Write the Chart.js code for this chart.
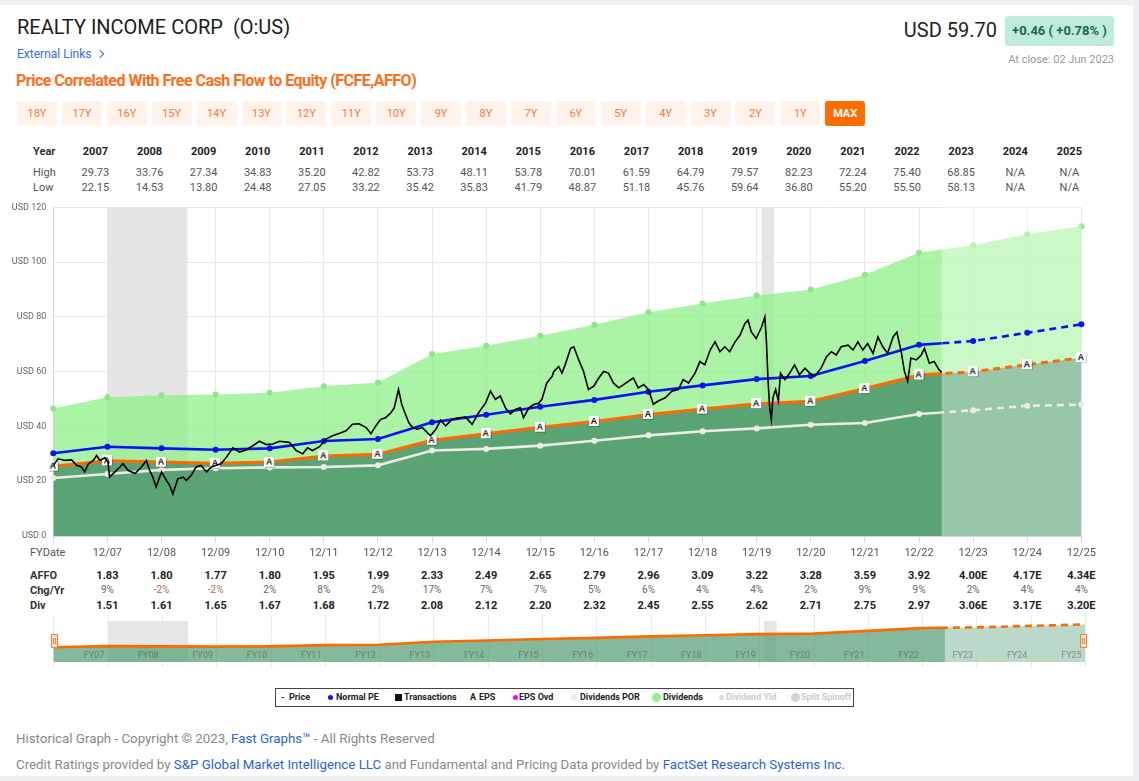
<!DOCTYPE html>
<html><head><meta charset="utf-8">
<script src="https://cdn.jsdelivr.net/npm/chart.js@4.4.0/dist/chart.umd.min.js"></script>
<style>
html,body{margin:0;padding:0;}
body{width:1139px;height:781px;background:#eef0f4;font-family:Roboto,'Noto Sans',Arial,sans-serif;position:relative;overflow:hidden;}
#card{position:absolute;left:0;top:5px;width:1133px;height:771px;background:#fff;}
.t{position:absolute;white-space:nowrap;line-height:1;}
.btn{position:absolute;top:101px;height:25px;width:40px;background:#fff3ec;border-radius:3px;color:#ff7a33;font-size:11px;line-height:25px;text-align:center;}
.btn.on{background:#ff6d00;color:#fff;font-weight:bold;}
#main{position:absolute;left:0;top:195px;}
#nav{position:absolute;left:0;top:615px;}
#legend{position:absolute;left:275px;top:688px;width:577px;height:17px;border:1.5px solid #444;}
.lg{position:absolute;top:4px;font-size:9px;font-weight:bold;color:#222;line-height:1;white-space:nowrap;}
.dot{position:absolute;border-radius:50%;}
.chev{display:inline-block;width:5px;height:5px;border-right:1.6px solid #2f6fe0;border-top:1.6px solid #2f6fe0;transform:rotate(45deg);margin-left:6px;position:relative;top:-1px;}
a{color:#2a62d8;text-decoration:none;}
</style></head>
<body>
<div id="card"></div>
<div class="t" style="left:17px;top:17px;font-size:20px;color:#1d1d1d;">REALTY INCOME CORP<span style="margin-left:10px">(O:US)</span></div>
<div class="t" style="left:17px;top:48px;font-size:12px;color:#2f6fe0;">External Links<span class="chev"></span></div>
<div class="t" style="left:16px;top:73px;font-size:16px;font-weight:bold;color:#ff6d1a;letter-spacing:-0.5px;">Price Correlated With Free Cash Flow to Equity (FCFE,AFFO)</div>
<div id="btns"></div>
<div class="t" style="right:142px;top:20px;font-size:20px;color:#222;">USD 59.70</div>
<div class="t" style="left:1005px;top:16px;width:109px;height:30px;line-height:30px;background:#bfeadc;border-radius:3px;text-align:center;font-size:13px;font-weight:bold;color:#1b6b47;">+0.46 ( +0.78% )</div>
<div class="t" style="right:25px;top:54px;font-size:11px;color:#999;">At close: 02 Jun 2023</div>
<div id="tables"></div>
<canvas id="main" width="1100" height="365"></canvas>
<canvas id="nav" width="1100" height="52"></canvas>
<div id="legend">
  <div class="lg" style="left:5px;">-</div><div class="lg" style="left:13px;">Price</div>
  <div class="dot" style="left:52px;top:6px;width:5px;height:5px;background:#0a14f0;"></div><div class="lg" style="left:60px;">Normal PE</div>
  <div class="dot" style="left:119px;top:5px;width:7px;height:7px;border-radius:0;background:#111;"></div><div class="lg" style="left:128px;">Transactions</div>
  <div class="lg" style="left:194px;">A</div><div class="lg" style="left:203px;">EPS</div>
  <div class="dot" style="left:237px;top:6px;width:5px;height:5px;background:#ff00ff;"></div><div class="lg" style="left:243px;">EPS Ovd</div>
  <div class="dot" style="left:295px;top:5px;width:6px;height:6px;background:#e6ede6;"></div><div class="lg" style="left:304px;">Dividends POR</div>
  <div class="dot" style="left:376px;top:4px;width:9px;height:9px;background:#94ef8c;"></div><div class="lg" style="left:387px;">Dividends</div>
  <div class="dot" style="left:443px;top:6px;width:5px;height:5px;background:#ddd;"></div><div class="lg" style="left:450px;color:#ccc;">Dividend Yld</div>
  <div class="dot" style="left:515px;top:4px;width:9px;height:9px;background:#d4d4d4;"></div><div class="lg" style="left:525px;color:#ccc;">Split Spinoff</div>
</div>
<div class="t" style="left:16px;top:732px;font-size:13.3px;color:#888;">Historical Graph - Copyright © 2023, <a>Fast Graphs™</a> - All Rights Reserved</div>
<div class="t" style="left:16px;top:758px;font-size:13.3px;color:#888;">Credit Ratings provided by <a>S&amp;P Global Market Intelligence LLC</a> and Fundamental and Pricing Data provided by <a>FactSet Research Systems Inc.</a></div>
<script>
// ---------- DATA ----------
const rangeButtons = ['18Y','17Y','16Y','15Y','14Y','13Y','12Y','11Y','10Y','9Y','8Y','7Y','6Y','5Y','4Y','3Y','2Y','1Y','MAX'];
const fiscalYears = [2006,2007,2008,2009,2010,2011,2012,2013,2014,2015,2016,2017,2018,2019,2020,2021,2022,2023,2024,2025];
const tableYears = ['2007','2008','2009','2010','2011','2012','2013','2014','2015','2016','2017','2018','2019','2020','2021','2022','2023','2024','2025'];
const highs = ['29.73','33.76','27.34','34.83','35.20','42.82','53.73','48.11','53.78','70.01','61.59','64.79','79.57','82.23','72.24','75.40','68.85','N/A','N/A'];
const lows  = ['22.15','14.53','13.80','24.48','27.05','33.22','35.42','35.83','41.79','48.87','51.18','45.76','59.64','36.80','55.20','55.50','58.13','N/A','N/A'];
const affoText = ['1.83','1.80','1.77','1.80','1.95','1.99','2.33','2.49','2.65','2.79','2.96','3.09','3.22','3.28','3.59','3.92','4.00E','4.17E','4.34E'];
const chgYr = ['9%','-2%','-2%','2%','8%','2%','17%','7%','7%','5%','6%','4%','4%','2%','9%','9%','2%','4%','4%'];
const divText = ['1.51','1.61','1.65','1.67','1.68','1.72','2.08','2.12','2.20','2.32','2.45','2.55','2.62','2.71','2.75','2.97','3.06E','3.17E','3.20E'];
// plotted series (USD), one value per fiscal year end
const dividendsArea = [46.6,50.7,51.4,51.7,52.3,54.7,56.1,66.5,69.5,73.1,77.1,81.7,84.9,87.8,90.0,95.4,103.4,106.2,110.2,113.1];
const normalPE = [30.2,32.6,32.0,31.5,32.0,34.7,35.4,41.5,44.3,47.2,49.7,52.7,55.0,57.3,58.4,63.9,69.8,71.2,74.2,77.3];
const epsLine = [25.5,27.45,27.0,26.55,27.0,29.25,29.85,34.95,37.35,39.75,41.85,44.4,46.35,48.3,49.2,53.85,58.8,60.0,62.55,65.1];
const dividendsPOR = [21.2,22.65,24.15,24.75,25.05,25.2,25.8,31.2,31.8,33.0,34.8,36.75,38.25,39.3,40.65,41.25,44.55,45.9,47.55,48.0];
// price (decimal year, USD)
const priceDates = [2007.00,2007.09,2007.22,2007.34,2007.43,2007.52,2007.58,2007.65,2007.74,2007.80,2007.86,2007.95,2008.01,2008.04,2008.14,2008.23,2008.29,2008.38,2008.51,2008.63,2008.72,2008.78,2008.84,2008.90,2009.00,2009.09,2009.15,2009.21,2009.30,2009.40,2009.46,2009.55,2009.64,2009.73,2009.83,2009.92,2010.01,2010.10,2010.20,2010.32,2010.44,2010.56,2010.69,2010.81,2010.93,2011.06,2011.18,2011.36,2011.49,2011.61,2011.70,2011.79,2011.92,2012.04,2012.16,2012.28,2012.41,2012.53,2012.65,2012.78,2012.87,2012.96,2013.05,2013.14,2013.24,2013.30,2013.38,2013.44,2013.51,2013.57,2013.64,2013.73,2013.82,2013.91,2013.97,2014.07,2014.16,2014.25,2014.37,2014.50,2014.62,2014.74,2014.86,2014.99,2015.08,2015.17,2015.26,2015.36,2015.45,2015.54,2015.63,2015.69,2015.79,2015.88,2015.97,2016.03,2016.12,2016.22,2016.25,2016.34,2016.40,2016.46,2016.56,2016.62,2016.71,2016.80,2016.89,2016.99,2017.08,2017.17,2017.26,2017.35,2017.45,2017.54,2017.63,2017.72,2017.81,2017.91,2018.00,2018.09,2018.18,2018.31,2018.43,2018.55,2018.64,2018.74,2018.86,2018.95,2019.04,2019.14,2019.23,2019.32,2019.41,2019.50,2019.60,2019.69,2019.78,2019.84,2019.90,2019.99,2020.09,2020.15,2020.18,2020.21,2020.24,2020.27,2020.30,2020.35,2020.40,2020.44,2020.52,2020.61,2020.70,2020.79,2020.89,2020.98,2021.07,2021.19,2021.29,2021.38,2021.47,2021.56,2021.69,2021.78,2021.87,2021.96,2022.05,2022.15,2022.24,2022.33,2022.42,2022.52,2022.59,2022.67,2022.73,2022.79,2022.85,2022.95,2023.04,2023.10,2023.19,2023.28,2023.37,2023.42];
const priceValues = [25.8,28.2,27.6,27.8,25.8,25.2,23.4,26.4,27.6,29.4,27.6,28.6,27.0,21.5,23.4,25.2,26.4,24.0,22.8,25.2,27.6,24.0,21.5,17.9,23.4,20.3,18.5,15.3,20.9,21.5,20.3,22.2,25.2,25.8,23.4,25.2,25.8,26.4,28.8,32.2,30.6,31.4,33.0,34.6,33.4,33.6,34.6,34.2,31.2,30.0,32.2,31.2,32.6,35.4,36.6,37.4,38.4,40.8,41.0,39.6,37.4,40.2,42.6,43.2,45.0,46.8,53.5,48.0,44.4,41.4,39.6,39.0,39.6,37.8,36.6,39.0,42.3,40.2,42.6,43.2,43.4,40.8,45.0,48.6,52.9,49.9,51.1,46.6,44.6,46.2,46.8,43.2,46.8,48.0,48.5,49.9,55.9,58.3,60.1,61.9,59.5,62.5,68.5,69.1,64.3,60.1,53.5,54.7,57.7,60.1,59.5,55.9,54.1,55.3,56.5,57.7,54.1,55.3,53.5,48.1,49.3,50.5,52.9,53.5,57.1,55.9,59.5,63.7,62.5,67.9,70.9,67.3,69.1,67.3,70.9,73.3,77.5,78.8,74.5,72.1,76.3,80.0,70.9,56.5,46.8,42.6,50.5,53.5,49.3,59.5,57.1,59.5,62.5,58.9,61.3,59.5,58.3,61.3,65.5,67.3,66.1,69.1,69.7,67.9,70.9,67.9,70.3,66.7,72.7,69.1,66.7,72.7,74.5,67.3,60.1,56.5,65.0,64.3,66.1,68.5,63.1,63.7,60.7,59.7];
const recessions = [[2008.0, 2009.48], [2020.09, 2020.32]];
const NOW = 2023.42;

// ---------- HTML parts ----------
const btns = document.getElementById('btns');
rangeButtons.forEach((b,i)=>{const d=document.createElement('div');d.className='btn'+(b==='MAX'?' on':'');d.style.left=(17+i*44.9)+'px';d.textContent=b;btns.appendChild(d);});

function txt(parent,s,x,cy,size,opts={}){
  const d=document.createElement('div');d.className='t';d.textContent=s;
  d.style.fontSize=size+'px';d.style.top=(cy-size/2)+'px';
  d.style.left=x+'px';
  if(opts.center) d.style.transform='translateX(-50%)';
  if(opts.bold)d.style.fontWeight='bold';
  d.style.color=opts.color||'#333';
  parent.appendChild(d);
}

const pts = arr => fiscalYears.map((fy,i)=>({x:fy+1,y:arr[i]}));

function makeA(){
  const c=document.createElement('canvas');c.width=11;c.height=11;
  const g=c.getContext('2d');
  g.fillStyle='rgba(0,0,0,0.2)';g.fillRect(1,1,10,10);
  g.fillStyle='#fff';g.fillRect(0,0,10,10);
  g.fillStyle='#111';g.font='bold 9px Arial';g.textAlign='center';g.textBaseline='middle';g.fillText('A',5,5.5);
  return c;
}
const aMark = makeA();

const splitPlugin = {
  id:'split',
  beforeDatasetsDraw(chart, args, o){
    const {ctx, chartArea:a, scales:{x}} = chart;
    ctx.save();
    if (o.grid) { ctx.strokeStyle=o.grid; ctx.lineWidth=1;
      for (let v=2007; v<=2026; v++){ const px=Math.round(x.getPixelForValue(v))+0.5; ctx.beginPath(); ctx.moveTo(px,a.top-6); ctx.lineTo(px,a.bottom+6); ctx.stroke(); } }
    ctx.fillStyle=o.band||'#e4e4e4';
    recessions.forEach(([s,e])=>{const x0=x.getPixelForValue(s),x1=x.getPixelForValue(e);ctx.fillRect(x0,a.top,x1-x0,a.bottom-a.top);});
    ctx.restore();
  },
  beforeDatasetDraw(chart,args){
    const ds=chart.data.datasets[args.index]; if(!ds.part) return;
    const xs=chart.scales.x.getPixelForValue(NOW), ctx=chart.ctx;
    ctx.save(); ctx.beginPath();
    if(ds.part==='hist') ctx.rect(0,0,xs,chart.height); else ctx.rect(xs,0,chart.width-xs,chart.height);
    ctx.clip();
  },
  afterDatasetDraw(chart,args){
    const ds=chart.data.datasets[args.index];
    if(ds.part) chart.ctx.restore();
    if(ds.overlay){
      const a=chart.chartArea, xs=chart.scales.x.getPixelForValue(NOW), ctx=chart.ctx;
      ctx.save(); ctx.fillStyle='rgba(255,255,255,'+ds.overlay+')'; ctx.fillRect(xs,a.top,a.right-xs,a.bottom-a.top); ctx.restore();
    }
  },
  afterDatasetsDraw(chart,args,o){
    if(!o.nav) return;
    const {ctx, chartArea:a, scales:{x}} = chart;
    ctx.save();
    ctx.fillStyle='rgba(80,80,80,0.55)'; ctx.font='9px Roboto, Arial'; ctx.textAlign='center'; ctx.textBaseline='middle';
    fiscalYears.slice(1).forEach(fy=>{ctx.fillText('FY'+String(fy).slice(2), x.getPixelForValue(fy+0.75), a.bottom-6);});
    [a.left+1, a.right-2].forEach(px=>{
      ctx.fillStyle='#fde3d0'; ctx.strokeStyle='#ff7a2a'; ctx.lineWidth=1;
      ctx.beginPath(); ctx.rect(Math.round(px-3)+0.5, 19.5, 6, 13); ctx.fill(); ctx.stroke();
      ctx.beginPath(); ctx.moveTo(Math.round(px)-0.5,23); ctx.lineTo(Math.round(px)-0.5,29); ctx.moveTo(Math.round(px)+1.5,23); ctx.lineTo(Math.round(px)+1.5,29); ctx.stroke();
    });
    ctx.restore();
  }
};

const lineDs = (label,data,color,width,part,extra={}) => Object.assign({
  label, data, part, borderColor:color, borderWidth:width, fill:false, pointRadius:3,
  pointBackgroundColor:color, pointBorderWidth:0, tension:0, clip:12,
  borderDash: part==='fcst'?[7,5]:[]
}, extra);

const mainChart = new Chart(document.getElementById('main'), {
  type:'line',
  data:{datasets:[
    {label:'Price', data:priceDates.map((d,i)=>({x:d,y:priceValues[i]})), borderColor:'#000', borderWidth:1.6, pointRadius:0, fill:false, tension:0, order:1},
    lineDs('Normal PE',pts(normalPE),'#0a14f0',2.6,'hist',{order:2}),
    lineDs('Normal PE f',pts(normalPE),'#0a14f0',2.6,'fcst',{order:2}),
    lineDs('EPS',pts(epsLine),'#ff6a00',3,'hist',{order:3,pointStyle:aMark,pointRadius:5}),
    lineDs('EPS f',pts(epsLine),'#ff6a00',3,'fcst',{order:3,pointStyle:aMark,pointRadius:5}),
    lineDs('Dividends POR',pts(dividendsPOR),'#ecece4',2.6,'hist',{order:4}),
    lineDs('Dividends POR f',pts(dividendsPOR),'#ecece4',2.6,'fcst',{order:4}),
    {label:'AFFO area', data:pts(epsLine), fill:'origin', backgroundColor:'rgba(84,157,114,0.93)', borderWidth:0, borderColor:'rgba(0,0,0,0)', pointRadius:0, tension:0, order:5, overlay:0.38},
    {label:'Dividends', data:pts(dividendsArea), fill:'origin', backgroundColor:'rgba(140,240,130,0.72)', borderWidth:0, borderColor:'rgba(0,0,0,0)', pointRadius:3, pointBackgroundColor:'#8de68a', pointBorderWidth:0, tension:0, order:6, clip:6}
  ]},
  options:{
    responsive:false, animation:false, events:[],
    layout:{padding:{left:0,right:15,top:9,bottom:0}},
    plugins:{legend:{display:false}, tooltip:{enabled:false}, split:{band:'#e4e4e4'}},
    scales:{
      x:{type:'linear', min:2007, max:2026,
        afterBuildTicks:ax=>{ax.ticks=fiscalYears.map(fy=>({value:fy+1}));},
        afterFit:ax=>{ax.height=24;},
        grid:{color:'#e8e8e8', tickLength:7, tickColor:'#dcdcdc'},
        border:{color:'#cfd3dc'},
        ticks:{padding:4, color:'#555', font:{family:'Roboto', size:11}, maxRotation:0, autoSkip:false,
          callback:v=> v===2007 ? '' : '12/'+String(v-1).slice(2)}
      },
      y:{min:0, max:120,
        afterFit:ax=>{ax.width=53.3;},
        grid:{color:'#e8e8e8', drawTicks:false},
        border:{color:'#cfd3dc'},
        ticks:{stepSize:20, padding:7, color:'#666', font:{family:'Roboto', size:9}, callback:v=>'USD '+v}
      }
    }
  },
  plugins:[splitPlugin]
});

const navChart = new Chart(document.getElementById('nav'), {
  type:'line',
  data:{datasets:[
    lineDs('EPS',pts(epsLine),'#ff6a00',2.6,'hist',{order:1,pointRadius:0}),
    lineDs('EPS f',pts(epsLine),'#ff6a00',2.6,'fcst',{order:1,pointRadius:0,borderDash:[7,5]}),
    {label:'area', data:pts(epsLine), fill:'origin', backgroundColor:'rgba(84,160,116,0.72)', borderWidth:0, borderColor:'rgba(0,0,0,0)', pointRadius:0, tension:0, order:2, overlay:0.45}
  ]},
  options:{
    responsive:false, animation:false, events:[],
    layout:{padding:{left:53.3,right:15,top:6,bottom:5}},
    plugins:{legend:{display:false}, tooltip:{enabled:false}, split:{band:'#e6e6e6', grid:'#e6e9ef', nav:true}},
    scales:{
      x:{type:'linear', min:2007, max:2026, display:false},
      y:{min:0, max:71, display:false}
    }
  },
  plugins:[splitPlugin]
});

// ---------- tables aligned on the chart's x scale ----------
const tb = document.getElementById('tables');
const xs = mainChart.scales.x;
txt(tb,'Year',33,151,11,{bold:true,color:'#333'});
txt(tb,'High',33,172,11,{color:'#555'});
txt(tb,'Low',33,187,11,{color:'#555'});
txt(tb,'FYDate',30,552,11,{color:'#555'});
txt(tb,'AFFO',30,575,11,{bold:true,color:'#333'});
txt(tb,'Chg/Yr',30,590,11,{bold:true,color:'#333'});
txt(tb,'Div',30,605,11,{bold:true,color:'#333'});
fiscalYears.slice(1).forEach((fy,i)=>{
  const px = xs.getPixelForValue(fy+1);
  const cx = px - 12;
  txt(tb,tableYears[i],cx,151,11,{center:true,bold:true,color:'#222'});
  txt(tb,highs[i],cx,172,11,{center:true,color:'#555'});
  txt(tb,lows[i],cx,187,11,{center:true,color:'#555'});
  txt(tb,affoText[i],px,575,11,{center:true,bold:true,color:'#222'});
  txt(tb,chgYr[i],px,590,10,{center:true,color:chgYr[i].startsWith('-')?'#b86a55':'#666'});
  txt(tb,divText[i],px,605,11,{center:true,bold:true,color:'#222'});
});
</script>
</body></html>
